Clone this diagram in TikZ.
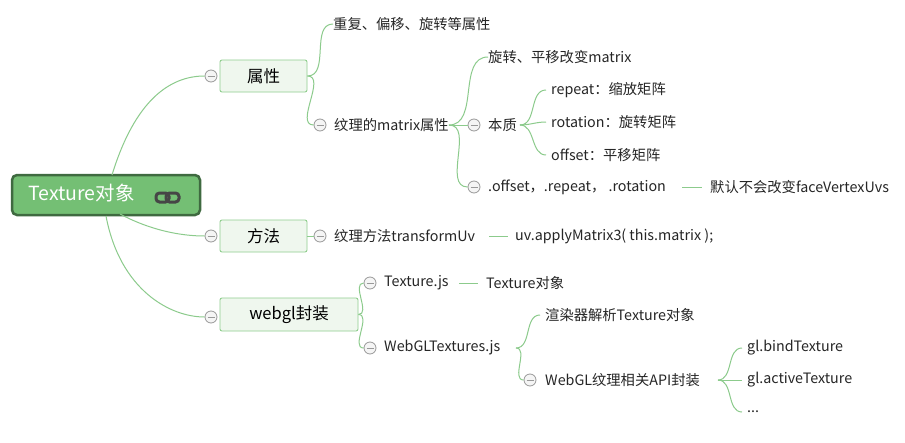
\documentclass[tikz,border=0pt]{standalone}
\usepackage{fontspec}
\setmainfont{Noto Sans CJK SC}
\definecolor{rootf}{HTML}{74BF74}
\definecolor{rootd}{HTML}{3F6A40}
\definecolor{brc}{HTML}{8CCB8C}
\definecolor{lvf}{HTML}{EFF7EE}
\definecolor{lvd}{HTML}{90CE8E}
\begin{document}
\begin{tikzpicture}[x=1pt,y=-1pt,
  lbl/.style={anchor=west,inner sep=0pt,font=\fontsize{14.3}{16}\selectfont,text=black!85},
  lvl/.style={draw=lvd,fill=lvf,rounded corners=2pt,line width=0.9pt,font=\fontsize{16.5}{18}\selectfont,text=black},
  br/.style={draw=brc,line width=1pt},
  col/.style={circle,draw=gray!80,fill=gray!8,minimum size=12pt,inner sep=0pt,line width=0.8pt,
    path picture={\draw[gray!80,line width=0.9pt] ([xshift=-3.5pt]path picture bounding box.center)--([xshift=3.5pt]path picture bounding box.center);}}]
\useasboundingbox (0,0) rectangle (905,442);
\fill[white] (0,0) rectangle (905,442);
% root
\node[draw=rootd,fill=rootf,line width=2.5pt,rounded corners=5pt,minimum width=188pt,minimum height=40pt] (root) at (106,195) {};
\node[anchor=west,text=white,font=\fontsize{19.5}{21}\selectfont,inner sep=0pt] (rt) at (28,193) {Texture对象};
\draw[gray!55!black,line width=3pt,rounded corners=3.5pt] (156,193) rectangle (169,202);
\draw[gray!55!black,line width=3pt,rounded corners=3.5pt] (166,193) rectangle (179,202);
% level1
\node[lvl,minimum width=87pt,minimum height=32pt] (a) at (263.5,76) {属性};
\node[lvl,minimum width=87pt,minimum height=32pt] (b) at (263.5,236) {方法};
\node[lvl,minimum width=138pt,minimum height=33pt] (c) at (289,314.5) {webgl封装};
\node[col] (ca) at (211,76) {};
\node[col] (cb) at (211,236) {};
\node[col] (cc) at (211,317) {};
\draw[br] (112,175) .. controls (135,100) and (170,76) .. (ca.west);
\draw[br] (120,214) .. controls (150,230) and (180,236) .. (cb.west);
\draw[br] (106,216) .. controls (120,290) and (170,317) .. (cc.west);
% 属性 children
\node[lbl] (a1) at (333,24) {重复、偏移、旋转等属性};
\node[col] (ca2) at (320,125) {};
\node[lbl] (a2) at (334,125) {纹理的matrix属性};
\draw[br] (a.east) to[out=0,in=180] (a1.west);
\draw[br] (a.east) to[out=0,in=180] (ca2.west);
\node[lbl] (m1) at (488,57) {旋转、平移改变matrix};
\node[col] (cm2) at (474,125) {};
\node[lbl] (m2) at (488,125) {本质};
\node[col] (cm3) at (474,187) {};
\node[lbl] (m3) at (488,187) {.offset，.repeat， .rotation};
\node[lbl] (m4) at (710,187) {默认不会改变faceVertexUvs};
\draw[br] (a2.east) to[out=0,in=180] (m1.west);
\draw[br] (a2.east) -- (cm2.west);
\draw[br] (a2.east) to[out=0,in=180] (cm3.west);
\draw[br] (682,187) -- (702,187);
\node[lbl] (e1) at (551,90) {repeat：缩放矩阵};
\node[lbl] (e2) at (551,122) {rotation：旋转矩阵};
\node[lbl] (e3) at (551,155) {offset：平移矩阵};
\draw[br] ([xshift=3pt]m2.east) to[out=0,in=180] ([xshift=-5pt]e1.west);
\draw[br] ([xshift=3pt]m2.east) to[out=0,in=180] ([xshift=-5pt]e2.west);
\draw[br] ([xshift=3pt]m2.east) to[out=0,in=180] ([xshift=-5pt]e3.west);
% 方法 children
\node[col] (cb1) at (320,236) {};
\node[lbl] (b1) at (334,236) {纹理方法transformUv};
\node[lbl] (b2) at (515,236) {uv.applyMatrix3( this.matrix );};
\draw[br] (b.east) -- (cb1.west);
\draw[br] (489,236) -- (508,236);
% webgl children
\node[col] (cc1) at (370,283) {};
\node[lbl] (c1) at (384,283) {Texture.js};
\node[lbl] (c1b) at (486,283) {Texture对象};
\node[col] (cc2) at (370,348) {};
\node[lbl] (c2) at (384,348) {WebGLTextures.js};
\draw[br] (c.east) to[out=0,in=180] (cc1.west);
\draw[br] (c.east) to[out=0,in=180] (cc2.west);
\draw[br] (459,283) -- (478,283);
\node[lbl] (w1) at (545,315) {渲染器解析Texture对象};
\node[col] (cw2) at (530,380) {};
\node[lbl] (w2) at (545,380) {WebGL纹理相关API封装};
\draw[br] (516,348) to[out=0,in=180] ([xshift=-5pt]w1.west);
\draw[br] (516,348) to[out=0,in=180] (cw2.west);
\node[lbl] (g1) at (747,348) {gl.bindTexture};
\node[lbl] (g2) at (747,380) {gl.activeTexture};
\node[lbl] (g3) at (747,412) {...};
\draw[br] (718,380) to[out=0,in=180] ([xshift=-5pt]g1.west);
\draw[br] (718,380) -- ([xshift=-5pt]g2.west);
\draw[br] (718,380) to[out=0,in=180] ([xshift=-5pt]g3.west);
\end{tikzpicture}
\end{document}
